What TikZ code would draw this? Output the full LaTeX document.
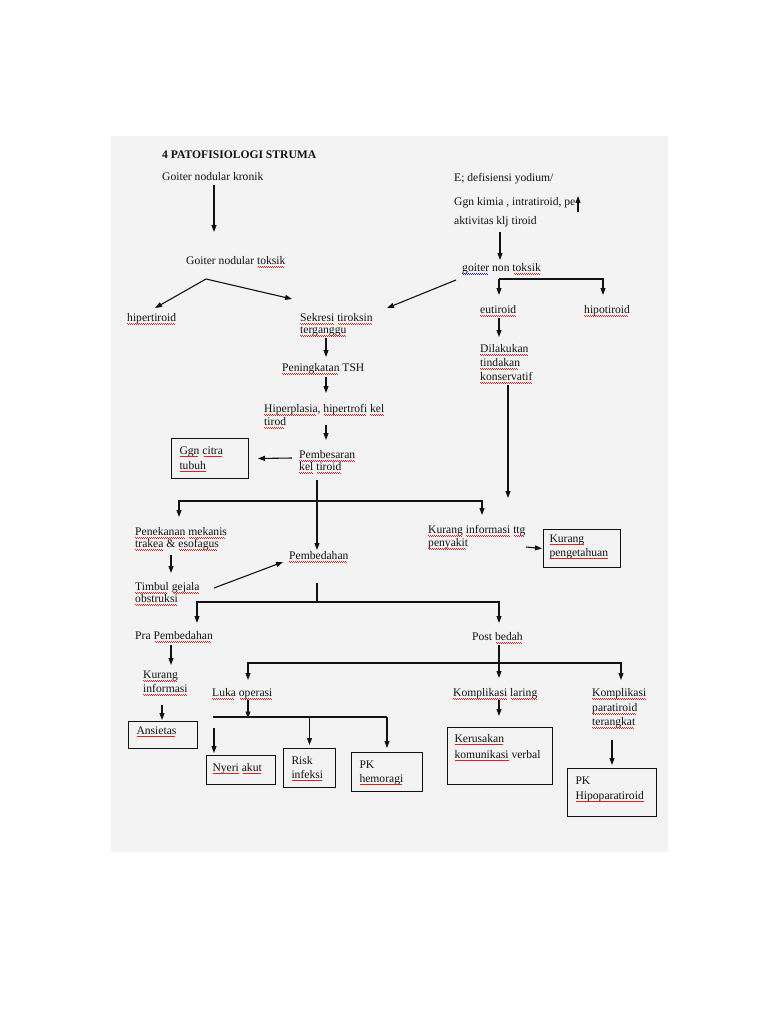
\documentclass[tikz,border=0pt]{standalone}
\usepackage{fontspec}
\setmainfont{Liberation Serif}
\usetikzlibrary{arrows.meta}
\definecolor{pagegray}{HTML}{F3F3F3}
\definecolor{ink}{HTML}{111111}
\definecolor{spellred}{HTML}{E0201F}
\definecolor{gramblue}{HTML}{2020D0}
\newsavebox\wbox
\newcommand\wavebox{\hbox{\lower2.2pt\hbox{\vrule width 1pt height 0.6pt depth 0pt}\lower2.9pt\hbox{\vrule width 1pt height 0.6pt depth 0pt}}}
\newcommand\wavy[2]{\sbox\wbox{#2}\leavevmode\rlap{\usebox\wbox}{\color{#1}\leaders\wavebox\hskip\wd\wbox}}
\newcommand\rw[1]{\wavy{spellred}{#1}}
\newcommand\bw[1]{\wavy{gramblue}{#1}}
\newcommand\bxt[4]{\parbox[b][#2][t]{#1}{\rule{0pt}{#3}#4}}
\tikzset{
  lsk/.style={font=\fontsize{11.6}{#1}\selectfont},
  txt/.style={anchor=north west, inner sep=0pt, align=left, text=ink, lsk=13.5},
  bx/.style={draw=ink, line width=1pt, anchor=north west, inner ysep=0pt, text=ink, lsk=14},
  arr/.style={draw=ink, line width=1.1pt, -{Triangle[length=7pt,width=5pt]}},
  ln/.style={draw=ink, line width=1.1pt},
}
\begin{document}
\begin{tikzpicture}[x=1pt,y=-1pt]
\useasboundingbox (0,0) rectangle (768,1024);
\fill[white] (0,0) rectangle (768,1024);
\fill[pagegray] (111,136) rectangle (668,852);

% text nodes
\node[txt, font=\bfseries\fontsize{11.6}{13.5}\selectfont] (title) at (162,150.5) {4 PATOFISIOLOGI STRUMA};
\node[txt] (kronik) at (162,172.5) {Goiter nodular kronik};
\node[txt] (toksik) at (186,256.5) {Goiter nodular \rw{toksik}};
\node[txt] (hiper) at (127,313.5) {\rw{hipertiroid}};
\node[txt, lsk=12] (sekresi) at (300,313.5) {\rw{Sekresi} \rw{tiroksin}\\\rw{terganggu}};
\node[txt, lsk=19] (cause) at (454,173.5) {E; defisiensi yodium/\\[5pt]Ggn kimia , intratiroid, pe\\aktivitas klj tiroid};
\node[txt] (nontoksik) at (462,263.5) {\bw{goiter} non \rw{toksik}};
\node[txt] (eutiroid) at (480,305.5) {\rw{eutiroid}};
\node[txt] (hipotiroid) at (584,305.5) {\rw{hipotiroid}};
\node[txt, lsk=14] (dilakukan) at (480,344.5) {\rw{Dilakukan}\\\rw{tindakan}\\\rw{konservatif}};
\node[txt] (peningkatan) at (282,363.5) {\rw{Peningkatan} TSH};
\node[txt, lsk=13] (hiperplasia) at (264,404.5) {\rw{Hiperplasia}, \rw{hipertrofi} \rw{kel}\\\rw{tirod}};
\node[txt, lsk=12] (pembesaran) at (299,450.5) {\rw{Pembesaran}\\\rw{kel} \rw{tiroid}};
\node[txt, lsk=13] (kurinfo) at (428,525.5) {\rw{Kurang} \rw{informasi} \rw{ttg}\\\rw{penyakit}};
\node[txt, lsk=12] (penekanan) at (135,527.5) {\rw{Penekanan} \rw{mekanis}\\\rw{trakea} \& \rw{esofagus}};
\node[txt] (pembedahan) at (289,551.5) {\rw{Pembedahan}};
\node[txt, lsk=11.5] (timbul) at (135,582.5) {\rw{Timbul} \rw{gejala}\\\rw{obstruksi}};
\node[txt] (pra) at (135,631.5) {Pra \rw{Pembedahan}};
\node[txt] (post) at (472,632.5) {Post \rw{bedah}};
\node[txt, lsk=14] (kurang) at (143,670.5) {\rw{Kurang}\\\rw{informasi}};
\node[txt] (luka) at (212,688.5) {\rw{Luka} \rw{operasi}};
\node[txt] (laring) at (453,688.5) {\rw{Komplikasi} \rw{laring}};
\node[txt, lsk=14.5] (kompara) at (592,688.5) {\rw{Komplikasi}\\\rw{paratiroid}\\\rw{terangkat}};

% boxes
\node[bx, inner xsep=8pt, lsk=15] (citra) at (171,438) {\bxt{61pt}{40pt}{15.5pt}{\rw{Ggn} \rw{citra}\\\rw{tubuh}}};
\node[bx, inner xsep=6pt, lsk=14] (peng) at (543,529) {\bxt{65pt}{38pt}{12.5pt}{\rw{Kurang}\\\rw{pengetahuan}}};
\node[bx, inner xsep=8pt] (ans) at (128,721) {\bxt{53pt}{27pt}{12.5pt}{\rw{Ansietas}}};
\node[bx, inner xsep=6pt] (nyeri) at (206,755) {\bxt{57pt}{29pt}{15.5pt}{\rw{Nyeri} \rw{akut}}};
\node[bx, inner xsep=8pt, lsk=14] (risk) at (283,748) {\bxt{36pt}{39pt}{15.5pt}{Risk\\\rw{infeksi}}};
\node[bx, inner xsep=8pt, lsk=14] (hem) at (351,752) {\bxt{55pt}{39pt}{15.5pt}{PK\\\rw{hemoragi}}};
\node[bx, inner xsep=7pt, lsk=16] (kerus) at (447,727) {\bxt{91pt}{57pt}{14.5pt}{\rw{Kerusakan}\\\rw{komunikasi} verbal}};
\node[bx, inner xsep=8pt, lsk=15] (hipopara) at (567,768) {\bxt{73pt}{48pt}{15.5pt}{PK\\\rw{Hipoparatiroid}}};

% connectors
\draw[arr] ([shift={(52,12.5)}]kronik.north west) -- ([shift={(28,-24.5)}]toksik.north west);
\coordinate (apex) at ([shift={(20,22.5)}]toksik.north west);
\draw[arr] (apex) -- ([shift={(28,-5.5)}]hiper.north west);
\draw[arr] (apex) -- ([shift={(-8,-14.5)}]sekresi.north west);
\draw[arr] ([shift={(-6,16.5)}]nontoksik.north west) -- ([shift={(87,-5.5)}]sekresi.north west);
\draw[arr] ([shift={(46,58.5)}]cause.north west) -- ([shift={(38,-3.5)}]nontoksik.north west);
\draw[arr] ([shift={(124,38.5)}]cause.north west) -- ([shift={(124,22.5)}]cause.north west);
\coordinate (j2) at ([shift={(37,15.5)}]nontoksik.north west);
\draw[arr] (j2) -- ([shift={(19,-10.5)}]eutiroid.north west);
\draw[arr] (j2) -| ([shift={(19,-10.5)}]hipotiroid.north west);
\draw[arr] ([shift={(19,12.5)}]eutiroid.north west) -- ([shift={(19,-7.5)}]dilakukan.north west);
\draw[arr] ([shift={(28,40.5)}]dilakukan.north west) -- ([shift={(80,-27.5)}]kurinfo.north west);
\draw[arr] ([shift={(26,24.5)}]sekresi.north west) -- ([shift={(44,-6.5)}]peningkatan.north west);
\draw[arr] ([shift={(44,13.5)}]peningkatan.north west) -- ([shift={(62,-11.5)}]hiperplasia.north west);
\draw[arr] ([shift={(62,20.5)}]hiperplasia.north west) -- ([shift={(27,-10.5)}]pembesaran.north west);
\draw[arr] ([shift={(-7,7.5)}]pembesaran.north west) -- ([shift={(9,0)}]citra.east);
\draw[arr] ([shift={(18,29.5)}]pembesaran.north west) -- ([shift={(28,-1.5)}]pembedahan.north west);
\coordinate (j3) at ([shift={(18,50.5)}]pembesaran.north west);
\draw[arr] (j3) -| ([shift={(44,-10.5)}]penekanan.north west);
\draw[arr] (j3) -| ([shift={(54,-10.5)}]kurinfo.north west);
\draw[arr] ([shift={(98,21.5)}]kurinfo.north west) -- ([shift={(-1,0)}]peng.west);
\draw[arr] ([shift={(36,27.5)}]penekanan.north west) -- ([shift={(36,-9.5)}]timbul.north west);
\draw[arr] ([shift={(79,5.5)}]timbul.north west) -- ([shift={(-6,10.5)}]pembedahan.north west);
\coordinate (j4) at ([shift={(28,50.5)}]pembedahan.north west);
\draw[ln] ([shift={(28,31.5)}]pembedahan.north west) -- (j4);
\draw[arr] (j4) -| ([shift={(62,-8.5)}]pra.north west);
\draw[arr] (j4) -| ([shift={(27,-9.5)}]post.north west);
\draw[arr] ([shift={(36,13.5)}]pra.north west) -- ([shift={(28,-5.5)}]kurang.north west);
\draw[arr] ([shift={(27,12.5)}]post.north west) -- ([shift={(46,-10.5)}]laring.north west);
\coordinate (j5) at ([shift={(27,30.5)}]post.north west);
\draw[arr] (j5) -| ([shift={(36,-8.5)}]luka.north west);
\draw[arr] (j5) -| ([shift={(29,-8.5)}]kompara.north west);
\draw[arr] ([shift={(19,34.5)}]kurang.north west) -- ([shift={(34,-1)}]ans.north west);
\coordinate (hl) at ([shift={(1,28.5)}]luka.north west);
\coordinate (hr) at ([shift={(175,28.5)}]luka.north west);
\draw[ln] (hl) -- (hr);
\draw[arr] ([shift={(36,11.5)}]luka.north west) -- ([shift={(36,30)}]luka.north west);
\draw[arr] (hl -| risk.north) -- ([shift={(0,-3)}]risk.north);
\draw[arr] (hl -| hem.north) -- ([shift={(0,-4)}]hem.north);
\draw[arr] ([shift={(8,-27)}]nyeri.north west) -- ([shift={(8,-2)}]nyeri.north west);
\draw[arr] ([shift={(46,11.5)}]laring.north west) -- ([shift={(52,-11)}]kerus.north west);
\draw[arr] ([shift={(20,51.5)}]kompara.north west) -- ([shift={(45,-3)}]hipopara.north west);
\end{tikzpicture}
\end{document}
